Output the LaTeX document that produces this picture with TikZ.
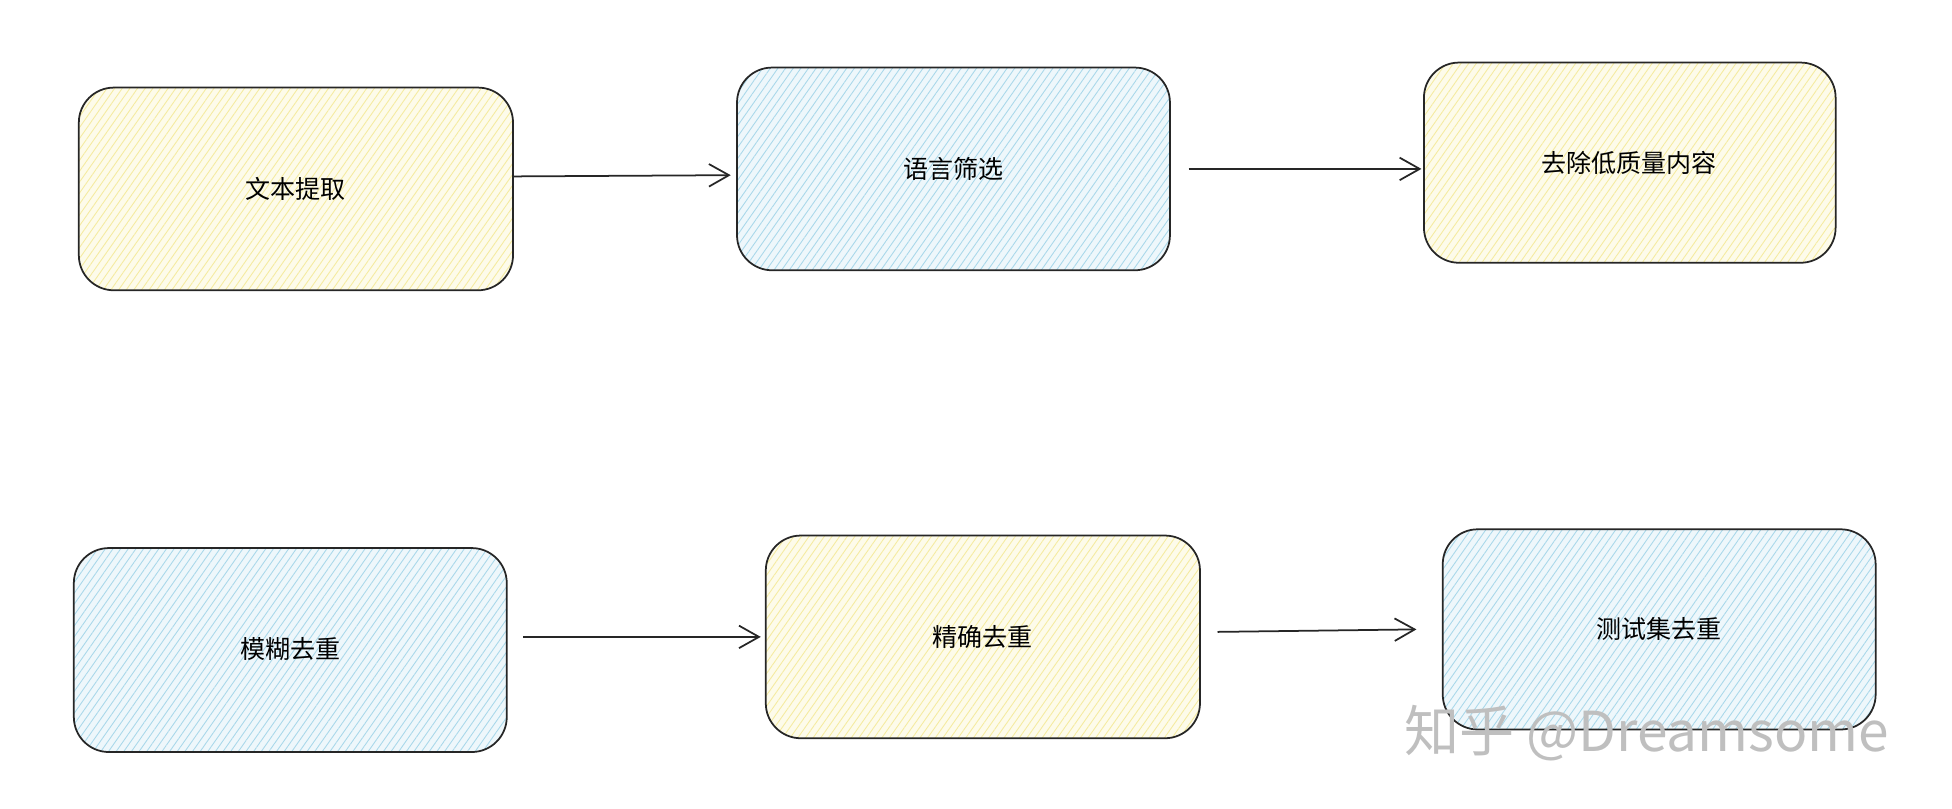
\documentclass[tikz,border=0pt]{standalone}
\usepackage{fontspec}
\setmainfont{Noto Sans CJK SC}
\usetikzlibrary{arrows.meta,patterns.meta}
\definecolor{yelF}{HTML}{FDFBEA}
\definecolor{yelL}{HTML}{F5EBA0}
\definecolor{bluF}{HTML}{EEF7FB}
\definecolor{bluL}{HTML}{A9D8EA}
\tikzset{
  boxbase/.style={draw=black!85,line width=0.7pt,rounded corners=14pt,font=\fontsize{11}{13}\selectfont},
  ybox/.style={boxbase,preaction={fill=yelF},pattern={Lines[angle=55,distance=2.5pt,line width=0.35pt]},pattern color=yelL},
  bbox/.style={boxbase,preaction={fill=bluF},pattern={Lines[angle=55,distance=2.5pt,line width=0.35pt]},pattern color=bluL},
  conn/.style={draw=black!85,line width=0.7pt,-{Straight Barb[length=8pt,width=9pt]}}
}
\begin{document}
\begin{tikzpicture}[x=0.5pt,y=-0.5pt]
\useasboundingbox (0,0) rectangle (1560,646);
\path[ybox] (63,70) rectangle (410,232);
\node (a) at (236.5,151) {文本提取};
\path[bbox] (589,54) rectangle (935,216);
\node (b) at (762,135) {语言筛选};
\path[ybox] (1138,50) rectangle (1467,210);
\node (c) at (1302,130) {去除低质量内容};
\path[bbox] (59,438) rectangle (405,601);
\node (d) at (232,519) {模糊去重};
\path[ybox] (612,428) rectangle (959,590);
\node (e) at (785,509) {精确去重};
\path[bbox] (1153,423) rectangle (1499,583);
\node (f) at (1326,503) {测试集去重};
\coordinate (a1) at (410,141); \coordinate (b1) at (584,140);
\coordinate (b2) at (950,135); \coordinate (c1) at (1136,135);
\coordinate (d1) at (418,509); \coordinate (e1) at (608,509);
\coordinate (e2) at (973,505); \coordinate (f1) at (1132,503);
\draw[conn] (a1) -- (b1);
\draw[conn] (b2) -- (c1);
\draw[conn] (d1) -- (e1);
\draw[conn] (e2) -- (f1);
\node[text=black!25,font=\fontsize{22}{26}\selectfont,anchor=west] (w) at (1115,586) {知乎 @Dreamsome};
\end{tikzpicture}
\end{document}
